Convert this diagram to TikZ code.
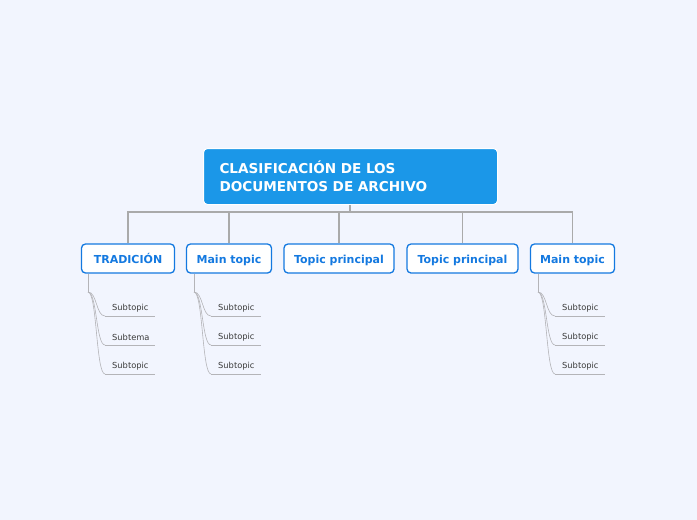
\documentclass[tikz,border=0pt]{standalone}
\usepackage{fontspec}
\setmainfont{DejaVu Sans}
\begin{document}
\begin{tikzpicture}[x=1pt,y=-1pt,
  rootbox/.style={fill=rootblue,draw=white,line width=1pt,rounded corners=4pt,text=white,font=\bfseries\fontsize{13.6}{17.5}\selectfont,align=left,anchor=north west,minimum width=294pt,minimum height=56pt,text width=262pt,inner xsep=16pt},
  topicbox/.style={fill=white,draw=topicblue,line width=1.3pt,rounded corners=4pt,text=topicblue,font=\bfseries\fontsize{11}{13}\selectfont,minimum height=29pt,inner xsep=4pt,text height=10pt,text depth=1pt},
  subbox/.style={anchor=south west,inner xsep=7pt,inner ysep=4pt,text width=36pt,align=left,text=subtext,font=\fontsize{8.3}{10}\selectfont},
  conn/.style={draw=conngray,line width=1.4pt},
  subconn/.style={draw=subgray,line width=0.6pt},
  under/.style={draw=subgray,line width=0.6pt}]
\definecolor{bg}{HTML}{F2F5FE}
\definecolor{rootblue}{HTML}{1B97E8}
\definecolor{topicblue}{HTML}{1479E0}
\definecolor{conngray}{HTML}{AAAAAA}
\definecolor{subgray}{HTML}{B4B4B8}
\definecolor{subtext}{HTML}{3A3A3A}
\fill[bg] (0,0) rectangle (697,520);
\useasboundingbox (0,0) rectangle (697,520);
% root
\node[rootbox] (root) at (203,148) {CLASIFICACIÓN DE LOS\\DOCUMENTOS DE ARCHIVO};
% topics
\node[topicbox,minimum width=93pt] (t1) at (128,258.5) {TRADICIÓN};
\node[topicbox,minimum width=85pt] (t2) at (229,258.5) {Main topic};
\node[topicbox,minimum width=110pt] (t3) at (339,258.5) {Topic principal};
\node[topicbox,minimum width=111pt] (t4) at (462.5,258.5) {Topic principal};
\node[topicbox,minimum width=84pt] (t5) at (572.5,258.5) {Main topic};
% main connectors
\coordinate (hub) at (350,212);
\draw[conn] (root.south -| hub) -- (hub);
\draw[conn] (t1.north) |- (hub) -| (t5.north);
\draw[conn] (t2.north) -- (t2.north |- hub);
\draw[conn] (t3.north) -- (t3.north |- hub);
\draw[conn] (t4.north) -- (t4.north |- hub);
% subtopics of t1
\coordinate (j1) at (88,292);
\node[subbox] (s1a) at (105,316) {Subtopic};
\node[subbox] (s1b) at (105,345) {Subtema};
\node[subbox] (s1c) at (105,374) {Subtopic};
% subtopics of t2
\coordinate (j2) at (194,292);
\node[subbox] (s2a) at (211,316) {Subtopic};
\node[subbox] (s2b) at (211,345) {Subtopic};
\node[subbox] (s2c) at (211,374) {Subtopic};
% subtopics of t5
\coordinate (j5) at (538,292);
\node[subbox] (s5a) at (555,316) {Subtopic};
\node[subbox] (s5b) at (555,345) {Subtopic};
\node[subbox] (s5c) at (555,374) {Subtopic};
\foreach \t/\j/\s in {t1/j1/s1,t2/j2/s2,t5/j5/s5}{
  \draw[subconn,line width=1pt] (\j |- \t.south) -- (\j);
  \foreach \k in {a,b,c}{
    \draw[under] (\s\k.south west) -- (\s\k.south east);
    \draw[subconn] (\j) .. controls ([xshift=9pt]\j) and ([xshift=-9pt]\s\k.south west) .. (\s\k.south west);
  }
}
\end{tikzpicture}
\end{document}
